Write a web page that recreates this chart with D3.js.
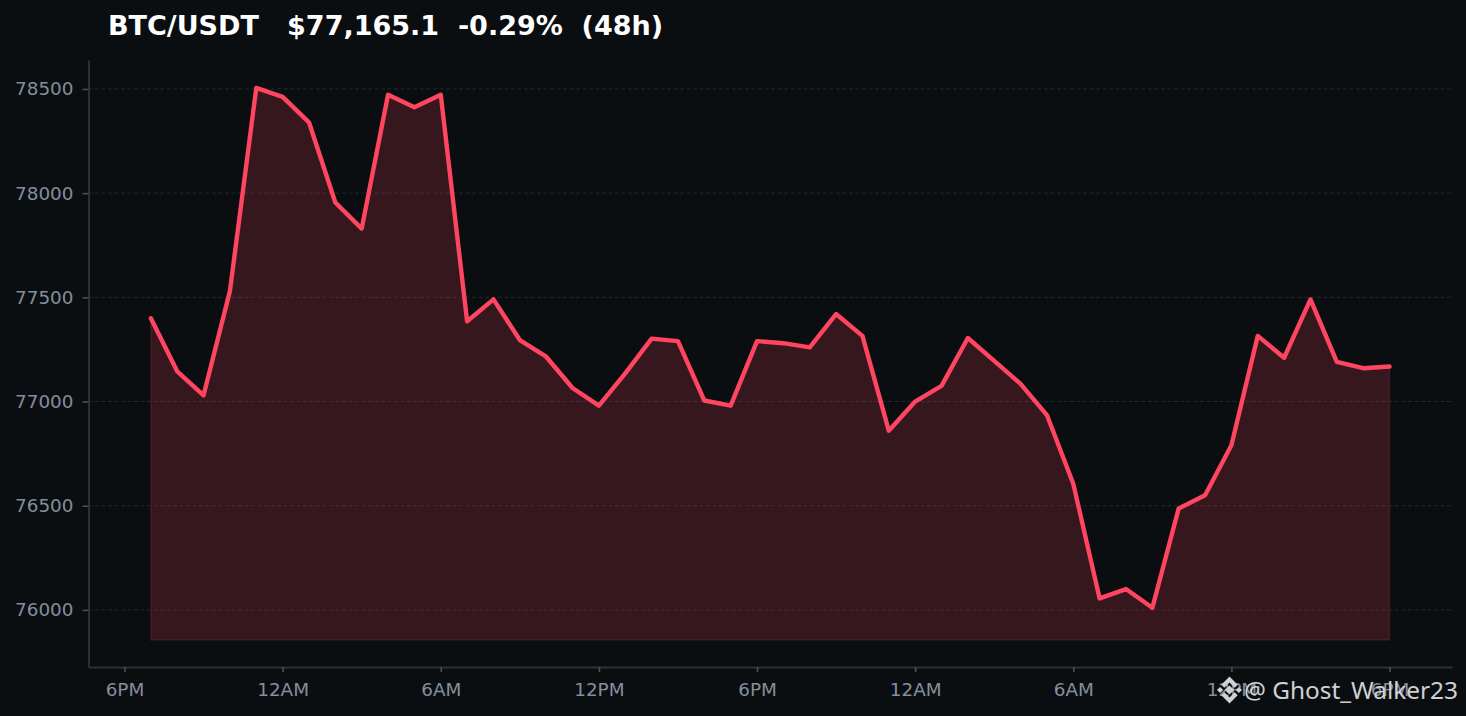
<!DOCTYPE html>
<html>
<head>
<meta charset="utf-8">
<script src="https://cdn.jsdelivr.net/npm/d3@7"></script>
<style>
  html, body { margin: 0; padding: 0; background: #0b0e11; overflow: hidden; }
  svg { display: block; }
  text { font-family: "DejaVu Sans", sans-serif; }
</style>
</head>
<body>
<div id="chart"></div>
<script>
// BTC/USDT hourly close, last 48h
const hours = d3.range(1, 49);
const prices = [
  77400, 77145, 77030, 77530, 78505, 78462, 78340, 77955, 77830, 78472,
  78412, 78472, 77385, 77490, 77295, 77215, 77065, 76980, 77135, 77302,
  77290, 77005, 76980, 77290, 77280, 77260, 77420, 77315, 76860, 77000,
  77075, 77305, 77195, 77085, 76935, 76605, 76055, 76100, 76010, 76487,
  76550, 76790, 77315, 77210, 77490, 77190, 77160, 77168
];
const xTickHours = [0, 6, 12, 18, 24, 30, 36, 42, 48];
const xTickLabels = ["6PM", "12AM", "6AM", "12PM", "6PM", "12AM", "6AM", "12PM", "6PM"];
const yTicks = [76000, 76500, 77000, 77500, 78000, 78500];
const fillBase = 75855;
const titleText = "BTC/USDT   $77,165.1  -0.29%  (48h)";
const watermark = "@ Ghost_Walker23";

const W = 1466, H = 716;
const plot = { left: 88.5, right: 1452, top: 60, bottom: 667 };

const svg = d3.select("#chart")
  .append("svg")
  .attr("width", W)
  .attr("height", H);

const x = d3.scaleLinear()
  .domain([-1.366, 50.37])
  .range([plot.left, plot.right]);

const y = d3.scaleLinear()
  .domain([75726, 78639])
  .range([plot.bottom, plot.top]);

// grid
svg.append("g")
  .selectAll("line")
  .data(yTicks)
  .join("line")
  .attr("x1", plot.left)
  .attr("x2", plot.right)
  .attr("y1", d => y(d))
  .attr("y2", d => y(d))
  .attr("stroke", "#23272d")
  .attr("stroke-width", 1)
  .attr("stroke-dasharray", "4,2.5");

const series = hours.map((h, i) => ({ h, p: prices[i] }));

const area = d3.area()
  .x(d => x(d.h))
  .y0(y(fillBase))
  .y1(d => y(d.p));

svg.append("path")
  .datum(series)
  .attr("fill", "#ff4560")
  .attr("fill-opacity", 0.18)
  .attr("stroke", "#ff4560")
  .attr("stroke-opacity", 0.14)
  .attr("stroke-width", 1.5)
  .attr("d", area);

const line = d3.line()
  .x(d => x(d.h))
  .y(d => y(d.p));

svg.append("path")
  .datum(series)
  .attr("fill", "none")
  .attr("stroke", "#ff4560")
  .attr("stroke-width", 4.4)
  .attr("stroke-linejoin", "round")
  .attr("stroke-linecap", "round")
  .attr("d", line);

// axes
const xAxis = d3.axisBottom(x)
  .tickValues(xTickHours)
  .tickFormat((d, i) => xTickLabels[i])
  .tickSize(5)
  .tickSizeOuter(0)
  .tickPadding(11);

const yAxis = d3.axisLeft(y)
  .tickValues(yTicks)
  .tickFormat(d3.format("d"))
  .tickSize(6)
  .tickSizeOuter(0)
  .tickPadding(9);

const gx = svg.append("g")
  .attr("transform", `translate(0,${plot.bottom})`)
  .call(xAxis);

const gy = svg.append("g")
  .attr("transform", `translate(${plot.left},0)`)
  .call(yAxis);

[gx, gy].forEach(g => {
  g.selectAll(".domain").attr("stroke", "#2b3139").attr("stroke-width", 2);
  g.selectAll(".tick line").attr("stroke", "#4a4f57").attr("stroke-width", 1.6);
  g.selectAll(".tick text")
    .attr("fill", "#848e9c")
    .style("font-family", "'DejaVu Sans', sans-serif")
    .style("font-size", "18.4px");
});

// title
svg.append("text")
  .attr("x", 108)
  .attr("y", 35)
  .attr("fill", "#ffffff")
  .attr("font-weight", "bold")
  .attr("font-size", 27)
  .attr("xml:space", "preserve")
  .style("white-space", "pre")
  .text(titleText);

// watermark: binance mark plus handle
const mark = svg.append("g")
  .attr("transform", "translate(1229.5,690)")
  .attr("fill", "#cfd1d3");

mark.append("path").attr("d", "M0,-4.6L4.6,0L0,4.6L-4.6,0Z");
mark.append("path").attr("d", "M-12.5,0L-9.4,-3.1L-6.3,0L-9.4,3.1Z");
mark.append("path").attr("d", "M12.5,0L9.4,-3.1L6.3,0L9.4,3.1Z");
mark.append("path").attr("d", "M0,-13.5L8.2,-5.3L5.2,-2.3L0,-7.5L-5.2,-2.3L-8.2,-5.3Z");
mark.append("path").attr("d", "M0,13.5L8.2,5.3L5.2,2.3L0,7.5L-5.2,2.3L-8.2,5.3Z");

svg.append("text")
  .attr("x", 1458)
  .attr("y", 699)
  .attr("text-anchor", "end")
  .attr("fill", "#cfd1d3")
  .style("font-family", "'Noto Sans', sans-serif")
  .style("font-size", "24.4px")
  .text(watermark);
</script>
</body>
</html>
